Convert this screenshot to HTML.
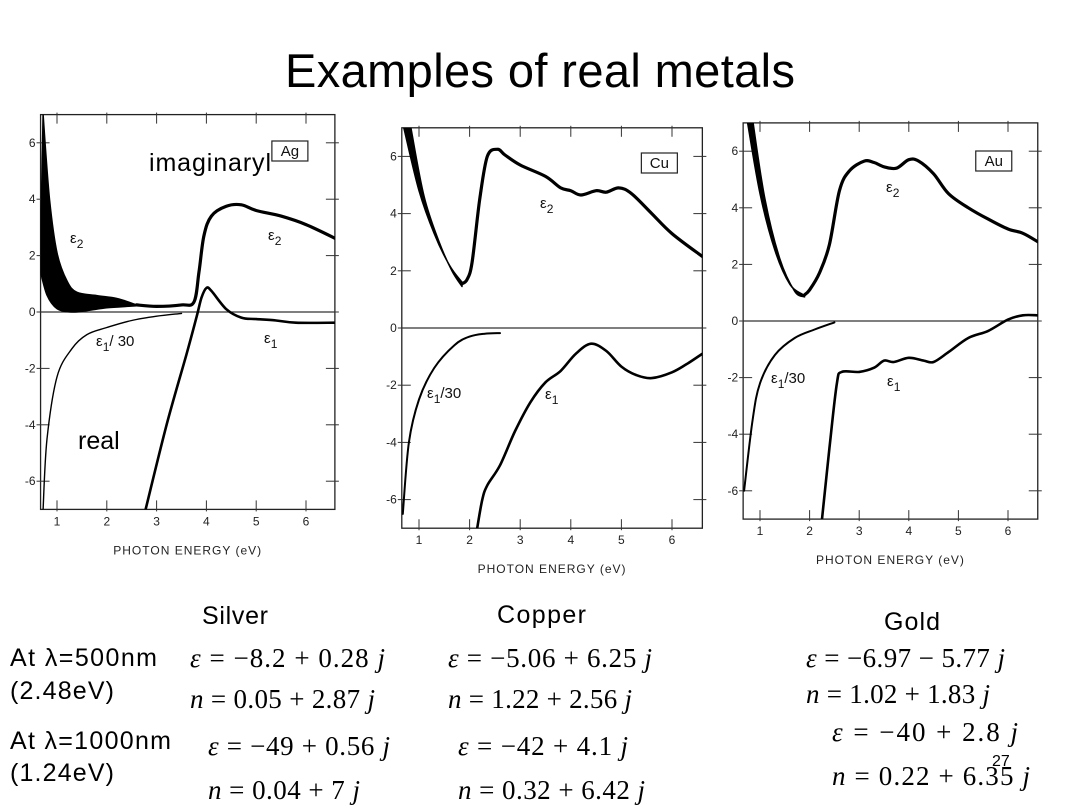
<!DOCTYPE html>
<html><head><meta charset="utf-8">
<style>
html,body{margin:0;padding:0;background:#fff;}
svg{display:block;}
.tk{font-family:"Liberation Sans",sans-serif;font-size:12px;fill:#222;}
.ax{font-family:"Liberation Sans",sans-serif;font-size:12px;fill:#222;letter-spacing:1px;}
.lab{font-family:"Liberation Sans",sans-serif;font-size:15px;fill:#111;}
.big{font-family:"Liberation Sans",sans-serif;fill:#000;}
.eq{font-family:"Liberation Serif",serif;font-size:27px;fill:#000;}
</style></head>
<body>
<svg id="s" width="1080" height="812" viewBox="0 0 1080 812" xmlns="http://www.w3.org/2000/svg">
<text class="big" x="540" y="87" font-size="47" text-anchor="middle" textLength="510">Examples of real metals</text>
<g id="charts"></g>
<g>
<text class="big" x="149" y="171" font-size="25" textLength="122">imaginaryl</text>
<text class="big" x="78" y="449" font-size="25">real</text>
</g>
<g>
<text class="big" x="202" y="624" font-size="25" textLength="66">Silver</text>
<text class="big" x="497" y="623" font-size="25" textLength="89">Copper</text>
<text class="big" x="884" y="630" font-size="25" textLength="56">Gold</text>
<text class="big" x="10" y="666" font-size="25" textLength="147">At λ=500nm</text>
<text class="big" x="10" y="699" font-size="25" textLength="104">(2.48eV)</text>
<text class="big" x="10" y="749" font-size="25" textLength="161">At λ=1000nm</text>
<text class="big" x="10" y="781" font-size="25" textLength="104">(1.24eV)</text>
<text class="eq" x="190" y="667" textLength="195"><tspan font-style="italic">ε</tspan> = −8.2 + 0.28 <tspan font-style="italic">j</tspan></text>
<text class="eq" x="190" y="708" textLength="185"><tspan font-style="italic">n</tspan> = 0.05 + 2.87 <tspan font-style="italic">j</tspan></text>
<text class="eq" x="208" y="755" textLength="182"><tspan font-style="italic">ε</tspan> = −49 + 0.56 <tspan font-style="italic">j</tspan></text>
<text class="eq" x="208" y="799" textLength="152"><tspan font-style="italic">n</tspan> = 0.04 + 7 <tspan font-style="italic">j</tspan></text>
<text class="eq" x="448" y="667" textLength="204"><tspan font-style="italic">ε</tspan> = −5.06 + 6.25 <tspan font-style="italic">j</tspan></text>
<text class="eq" x="448" y="708" textLength="184"><tspan font-style="italic">n</tspan> = 1.22 + 2.56 <tspan font-style="italic">j</tspan></text>
<text class="eq" x="458" y="755" textLength="170"><tspan font-style="italic">ε</tspan> = −42 + 4.1 <tspan font-style="italic">j</tspan></text>
<text class="eq" x="458" y="799" textLength="187"><tspan font-style="italic">n</tspan> = 0.32 + 6.42 <tspan font-style="italic">j</tspan></text>
<text class="eq" x="806" y="667" textLength="199"><tspan font-style="italic">ε</tspan> = −6.97 − 5.77 <tspan font-style="italic">j</tspan></text>
<text class="eq" x="806" y="703" textLength="184"><tspan font-style="italic">n</tspan> = 1.02 + 1.83 <tspan font-style="italic">j</tspan></text>
<text class="eq" x="832" y="741" textLength="186"><tspan font-style="italic">ε</tspan> = −40 + 2.8 <tspan font-style="italic">j</tspan></text>
<text class="eq" x="832" y="785" textLength="198"><tspan font-style="italic">n</tspan> = 0.22 + 6.35 <tspan font-style="italic">j</tspan></text>
<text class="big" x="992" y="766" font-size="16">27</text>
</g>
</svg>
<script>
const xTicks=[1,2,3,4,5,6];
const yTicks=[6,4,2,0,-2,-4,-6];
// Ag
const agBandUpper=[[0.72,7],[0.85,4],[1.0,2.1],[1.2,1.1],[1.4,0.7],[1.8,0.58],[2.2,0.48],[2.6,0.25]];
const agBandLower=[[0.66,1.5],[0.8,0.6],[1.0,0.12],[1.3,0.0],[1.6,0.05],[2.0,0.15],[2.4,0.2],[2.6,0.22]];
const agE2=[[2.6,0.25],[3.0,0.2],[3.5,0.25],[3.75,0.35],[3.85,1.4],[3.95,2.7],[4.1,3.4],[4.4,3.75],[4.7,3.8],[5.0,3.6],[5.5,3.4],[6.0,3.1],[6.6,2.6]];
const agE1=[[2.78,-7],[3.2,-4],[3.6,-1.5],[3.8,-0.2],[3.9,0.5],[4.0,0.85],[4.1,0.75],[4.4,0.1],[4.7,-0.2],[5.0,-0.25],[5.4,-0.3],[5.8,-0.38],[6.6,-0.38]];
const agE1over30=[[0.72,-7],[0.8,-4.5],[1.0,-2.3],[1.3,-1.3],[1.6,-0.8],[2.0,-0.55],[2.5,-0.3],[3.0,-0.15],[3.5,-0.05]];
// Cu
const cuBandUpper=[[0.7,7],[1.0,4.8],[1.3,3.3],[1.6,2.2],[1.85,1.6]];
const cuBandLower=[[0.84,7],[1.1,4.6],[1.4,3.0],[1.65,2.0],[1.85,1.45]];
const cuE2=[[1.85,1.55],[1.95,1.7],[2.05,2.3],[2.2,4.5],[2.35,6.0],[2.55,6.25],[2.7,6.05],[3.0,5.7],[3.5,5.3],[3.8,4.9],[4.0,4.8],[4.2,4.65],[4.5,4.8],[4.7,4.75],[4.95,4.9],[5.2,4.7],[5.6,4.0],[6.0,3.3],[6.6,2.5]];
const cuE1=[[2.15,-7],[2.25,-6],[2.35,-5.5],[2.6,-4.8],[2.9,-3.6],[3.2,-2.6],[3.5,-1.9],[3.8,-1.5],[4.1,-0.9],[4.4,-0.55],[4.7,-0.8],[5.0,-1.35],[5.3,-1.65],[5.6,-1.75],[6.0,-1.55],[6.3,-1.25],[6.6,-0.9]];
const cuE1over30=[[0.68,-6.5],[0.8,-4],[1.0,-2.5],[1.3,-1.4],[1.7,-0.6],[2.0,-0.3],[2.3,-0.2],[2.6,-0.18]];
// Au
const auBandUpper=[[0.75,7],[1.0,4.5],[1.3,2.5],[1.6,1.3],[1.85,0.95]];
const auBandLower=[[0.86,7],[1.1,4.3],[1.4,2.2],[1.7,1.05],[1.9,0.85]];
const auE2=[[1.88,0.9],[2.0,1.1],[2.2,1.7],[2.4,2.7],[2.6,4.6],[2.8,5.3],[3.1,5.65],[3.3,5.6],[3.5,5.45],[3.75,5.4],[4.0,5.7],[4.2,5.65],[4.5,5.2],[4.8,4.5],[5.2,4.0],[5.6,3.6],[6.0,3.25],[6.3,3.1],[6.6,2.8]];
const auE1=[[2.25,-7],[2.4,-4.5],[2.55,-2.2],[2.65,-1.8],[3.0,-1.8],[3.3,-1.65],[3.5,-1.4],[3.7,-1.45],[4.0,-1.3],[4.3,-1.4],[4.5,-1.45],[4.8,-1.1],[5.2,-0.6],[5.6,-0.35],[6.0,0.05],[6.3,0.2],[6.6,0.2]];
const auE1over30=[[0.68,-6],[0.85,-3.5],[1.0,-2.2],[1.3,-1.2],[1.7,-0.6],[2.1,-0.3],[2.5,-0.05]];

const NS='http://www.w3.org/2000/svg';
const root=document.getElementById('charts');
function mk(tag,attrs,parent){const e=document.createElementNS(NS,tag);for(const k in attrs)e.setAttribute(k,attrs[k]);parent.appendChild(e);return e;}
function segs(pts){let d='';
 for(let i=0;i<pts.length-1;i++){const p0=pts[Math.max(i-1,0)],p1=pts[i],p2=pts[i+1],p3=pts[Math.min(i+2,pts.length-1)];
 const c1=[p1[0]+(p2[0]-p0[0])/6,p1[1]+(p2[1]-p0[1])/6],c2=[p2[0]-(p3[0]-p1[0])/6,p2[1]-(p3[1]-p1[1])/6];
 d+=' C'+c1[0].toFixed(1)+','+c1[1].toFixed(1)+' '+c2[0].toFixed(1)+','+c2[1].toFixed(1)+' '+p2[0].toFixed(1)+','+p2[1].toFixed(1);}return d;}
function smooth(pts){return 'M'+pts[0][0].toFixed(1)+','+pts[0][1].toFixed(1)+segs(pts);}
function panel(c){
 const g=mk('g',{},root);
 
 
 const X=v=>c.x1+(v-1)*c.sx, Y=v=>c.y0-v*c.sy;
 const L=X(c.xmin),R=X(c.xmax),T=Y(7),B=Y(-7);
 const clip=mk('clipPath',{id:'clip-'+c.id},g);mk('rect',{x:L,y:T,width:R-L,height:B-T},clip);
 const fr=mk('rect',{x:L,y:T,width:R-L,height:B-T,fill:'none',stroke:'#222','stroke-width':1.3},g);
 
 
 const zl=mk('line',{x1:L,x2:R,y1:Y(0),y2:Y(0),stroke:'#333','stroke-width':1.2},g);
 
 
 xTicks.forEach(t=>{
  mk('line',{x1:X(t),x2:X(t),y1:B-9,y2:B+2,stroke:'#333','stroke-width':1},g);
  mk('line',{x1:X(t),x2:X(t),y1:T-2,y2:T+9,stroke:'#333','stroke-width':1},g);
  const tx=mk('text',{x:X(t),y:B+16,'text-anchor':'middle',class:'tk'},g);tx.textContent=t;
  
  
 });
 yTicks.forEach(t=>{
  mk('line',{x1:L-4,x2:L+9,y1:Y(t),y2:Y(t),stroke:'#333','stroke-width':1},g);
  mk('line',{x1:R-9,x2:R+4,y1:Y(t),y2:Y(t),stroke:'#333','stroke-width':1},g);
  const ty=mk('text',{x:L-5,y:Y(t)+4,'text-anchor':'end',class:'tk'},g);ty.textContent=t<0?'-'+(-t):t;
  
  
 });
 const at=mk('text',{x:(L+R)/2,y:B+45,'text-anchor':'middle',class:'ax'},g);at.textContent='PHOTON ENERGY (eV)';
 
 
 const cg=mk('g',{'clip-path':'url(#clip-'+c.id+')'},g);
 const P=a=>a.map(p=>[X(p[0]),Y(p[1])]);
 const up=P(c.bu), lo=P(c.bl).reverse();
 const bd=smooth(up)+' L'+lo[0][0].toFixed(1)+','+lo[0][1].toFixed(1)+segs(lo)+' Z';
 const bp=mk('path',{d:bd,fill:'#000',stroke:'#000','stroke-width':1.5,'stroke-linejoin':'round'},cg);
 
 
 const e2=mk('path',{d:smooth(P(c.e2)),fill:'none',stroke:'#000','stroke-width':3.2,'stroke-linecap':'round'},cg);
 
 
 const e1=mk('path',{d:smooth(P(c.e1)),fill:'none',stroke:'#000','stroke-width':2.6,'stroke-linecap':'round'},cg);
 
 
 const e3=mk('path',{d:smooth(P(c.e30)),fill:'none',stroke:'#000','stroke-width':c.w30,'stroke-linecap':'round'},cg);
 
 
 c.labels.forEach(l=>{
  const t=mk('text',{x:l[0],y:l[1],class:'lab'},g);
  t.innerHTML='ε<tspan dy="5" font-size="12">'+l[2]+'</tspan><tspan dy="-5">'+(l[3]||'')+'</tspan>';
  
  
 });
 const bw=36;
 const nb=mk('rect',{x:R-bw-c.bm,y:c.bt,width:bw,height:20,fill:'#fff',stroke:'#222','stroke-width':1.2},g);
 
 
 const nt=mk('text',{x:R-c.bm-bw/2,y:c.bt+15,'text-anchor':'middle',class:'lab','font-size':'14'},g);nt.textContent=c.name;
 
 
}
panel({id:'ag',name:'Ag',x1:57,xmin:0.67,xmax:6.58,sx:49.8,y0:312,sy:28.2,bm:27,bt:141,bu:agBandUpper,bl:agBandLower,e2:agE2,e1:agE1,e30:agE1over30,w30:1.4,
 labels:[[70,243,'2'],[268,240,'2'],[96,346,'1','/ 30'],[264,343,'1']]});
panel({id:'cu',name:'Cu',x1:419,xmin:0.66,xmax:6.6,sx:50.6,y0:328,sy:28.6,bm:25,bt:153,bu:cuBandUpper,bl:cuBandLower,e2:cuE2,e1:cuE1,e30:cuE1over30,w30:2,
 labels:[[540,208,'2'],[427,398,'1','/30'],[545,399,'1']]});
panel({id:'au',name:'Au',x1:760,xmin:0.66,xmax:6.6,sx:49.6,y0:321,sy:28.3,bm:26,bt:151,bu:auBandUpper,bl:auBandLower,e2:auE2,e1:auE1,e30:auE1over30,w30:2,
 labels:[[886,192,'2'],[771,383,'1','/30'],[887,386,'1']]});
</script>
</body></html>
